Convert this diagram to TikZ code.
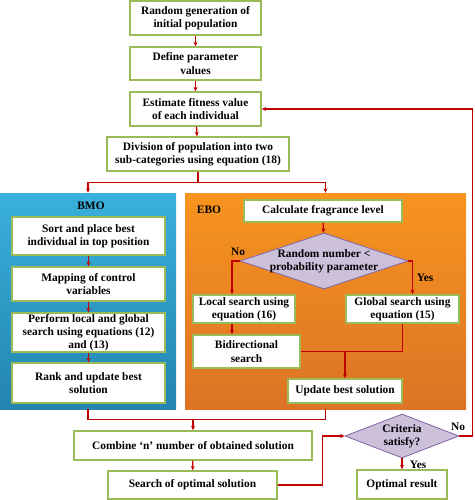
\documentclass[tikz,border=0pt]{standalone}
\usepackage{fontspec}
\setmainfont{Liberation Serif}
\usetikzlibrary{shapes.geometric,arrows.meta}
\definecolor{boxgreen}{HTML}{9BBB59}
\definecolor{arrred}{HTML}{C00000}
\definecolor{diafill}{HTML}{CCC0DA}
\definecolor{diaedge}{HTML}{8064A2}
\definecolor{bmotop}{HTML}{3AB0DC}
\definecolor{bmobot}{HTML}{2384B0}
\definecolor{ebotop}{HTML}{F8941F}
\definecolor{ebobot}{HTML}{DC7325}
\begin{document}
\begin{tikzpicture}[x=1pt,y=-1pt,
    every node/.style={font=\fontsize{11.4}{13.3}\selectfont\bfseries},
    stepbox/.style={draw=boxgreen,line width=1.4pt,fill=white,align=center,inner sep=0pt},
    dia/.style={diamond,draw=diaedge,line width=0.8pt,fill=diafill,inner sep=0pt,minimum width=#1},
    flow/.style={draw=arrred,line width=1.3pt,-{Stealth[length=4.5pt,width=4pt]}},
    link/.style={draw=arrred,line width=1.3pt}]
    \useasboundingbox (0,0) rectangle (474,500);
    \node[stepbox,minimum width=131pt,minimum height=34pt] (init) at (195.5,18) {Random generation of\\initial population};
    \node[stepbox,minimum width=131pt,minimum height=33pt] (param) at (195.5,63.5) {Define parameter\\values};
    \node[stepbox,minimum width=131pt,minimum height=34pt] (fit) at (195.5,109) {Estimate fitness value\\of each individual};
    \node[stepbox,minimum width=182pt,minimum height=34pt] (divide) at (198,154) {Division of population into two\\sub-categories using equation (18)};

    \node[top color=bmotop,bottom color=bmobot,minimum width=176pt,minimum height=216pt,inner sep=0pt] (bmo) at (88,301) {};
    \node (bmolab) at (91,206) {BMO};
    \node[stepbox,minimum width=153pt,minimum height=38pt] (sort) at (88.5,236) {Sort and place best\\individual in top position};
    \node[stepbox,minimum width=153pt,minimum height=34pt] (mapping) at (88.5,284) {Mapping of control\\variables};
    \node[stepbox,minimum width=153pt,minimum height=39pt] (perform) at (88.5,332.5) {Perform local and global\\search using equations (12)\\and (13)};
    \node[stepbox,minimum width=153pt,minimum height=40pt] (rank) at (88.5,383) {Rank and update best\\solution};

    \node[top color=ebotop,bottom color=ebobot,minimum width=281pt,minimum height=216pt,inner sep=0pt] (ebo) at (325.5,301) {};
    \node (ebolab) at (209,210) {EBO};
    \node[stepbox,minimum width=158pt,minimum height=22pt] (frag) at (323,211) {Calculate fragrance level};
    \node[dia=168pt,minimum height=56pt] (rand) at (324,261) {};
    \node[align=center] (randtext) at (rand.center) {Random number \textless\\probability parameter};
    \node[stepbox,minimum width=102pt,minimum height=28pt] (local) at (244,309) {Local search using\\equation (16)};
    \node[stepbox,minimum width=113pt,minimum height=28pt] (global) at (402.5,309) {Global search using\\equation (15)};
    \node[stepbox,minimum width=107pt,minimum height=33pt] (bidir) at (246.5,351.5) {Bidirectional\\search};
    \node[stepbox,minimum width=114pt,minimum height=24pt] (update) at (345,391) {Update best solution};
    \node (no1) at (238,252) {No};
    \node (yes1) at (425,278) {Yes};

    \node[stepbox,minimum width=238pt,minimum height=29pt] (combine) at (193,445.5) {Combine ‘n’ number of obtained solution};
    \node[stepbox,minimum width=169pt,minimum height=28pt] (search) at (192.5,485) {Search of optimal solution};
    \node[dia=114pt,minimum height=44pt] (crit) at (402,436) {};
    \node[align=center] (crittext) at (crit.center) {Criteria\\satisfy?};
    \node[stepbox,minimum width=90pt,minimum height=29pt] (optimal) at (402,484.5) {Optimal result};
    \node (no2) at (458,427) {No};
    \node (yes2) at (418,465) {Yes};

    \draw[flow] (init) -- (param);
    \draw[flow] (param) -- (fit);
    \draw[flow] (fit) -- (divide);
    \draw[link] (divide.south) -- ++(0,11) coordinate (split);
    \draw[flow] (split) -| (bmo.north);
    \draw[flow] (split) -| (ebo.north);
    \draw[flow] (sort) -- (mapping);
    \draw[flow] (mapping) -- (perform);
    \draw[flow] (perform) -- (rank);
    \draw[flow] (frag) -- (rand);
    \draw[flow] (rand.west) -| ([xshift=-12pt]local.north);
    \draw[flow] (rand.east) -| ([xshift=10pt]global.north);
    \draw[flow] ([xshift=-12pt]local.south) -- ([xshift=-12pt]local.south |- bidir.north);
    \draw[link] (global.south) |- (bidir.east);
    \draw[flow] (update.north |- bidir.east) -- (update.north);
    \draw[link] (bmo.south) -- ++(0,10) coordinate (merge) -| (ebo.south);
    \draw[flow] (combine.north |- merge) -- (combine.north);
    \draw[flow] (combine) -- (search);
    \draw[flow] (search.east) -- ++(45,0) |- (crit.west);
    \draw[flow] (crit.east) -- ++(13,0) |- (fit.east);
    \draw[flow] (crit.south) -- (optimal.north);
\end{tikzpicture}
\end{document}
